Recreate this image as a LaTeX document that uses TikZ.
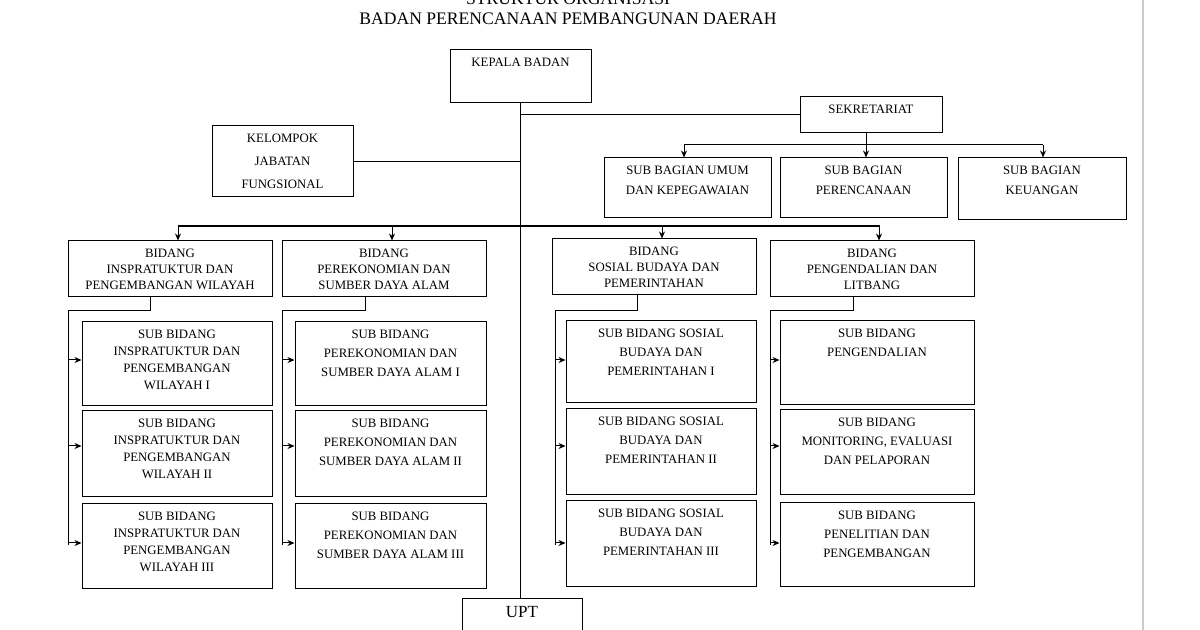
\documentclass[tikz,border=0pt]{standalone}
\usepackage{fontspec}
\setmainfont{Liberation Serif}
\usetikzlibrary{arrows.meta}
\newcommand{\bx}[7][8.5]{%
  \pgfmathsetmacro{\bw}{(#4-#2)*0.5}\pgfmathsetmacro{\bh}{(#5-#3)*0.5}%
  \node[box,minimum width=\bw pt,minimum height=\bh pt,
    label={[txt,font=\fontsize{6.4}{#1}\selectfont]north:{#7}}] (#6) at ({(#2+#4)/2},{(#3+#5)/2}) {};}
\tikzset{
  box/.style={draw,line width=0.5pt,inner sep=0pt,fill=white},
  txt/.style={anchor=north,align=center,inner sep=0pt,yshift=-4pt},
  ln/.style={line width=0.5pt},
  arr/.style={line width=0.5pt,-{Stealth[length=3.5pt,width=3pt]}}
}
\begin{document}
\begin{tikzpicture}[x=0.5pt,y=-0.5pt]
\useasboundingbox[fill=white] (0,0) rectangle (1200,630);
\draw[gray!40,line width=1pt] (1143,0) -- (1143,630);
\node[font=\fontsize{8.8}{10}\selectfont,align=center] (title) at (568,9) {STRUKTUR ORGANISASI\\BADAN PERENCANAAN PEMBANGUNAN DAERAH};
% trunk
\coordinate (t0) at (520,100);
\bx{450}{50}{591}{103}{kb}{KEPALA BADAN}
\bx[11.5]{800}{97}{942}{133}{sek}{SEKRETARIAT}
\bx[11.5]{212}{126}{353}{197}{kel}{KELOMPOK\\JABATAN\\FUNGSIONAL}
\bx[10]{604}{158}{771}{218}{sb1}{SUB BAGIAN UMUM\\DAN KEPEGAWAIAN}
\bx[10]{780}{158}{947}{218}{sb2}{SUB BAGIAN\\PERENCANAAN}
\bx[10]{958}{158}{1126}{220}{sb3}{SUB BAGIAN\\KEUANGAN}
\bx[8]{68}{241}{272}{297}{b1}{BIDANG\\INSPRATUKTUR DAN\\PENGEMBANGAN WILAYAH}
\bx[8]{282}{241}{486}{297}{b2}{BIDANG\\PEREKONOMIAN DAN\\SUMBER DAYA ALAM}
\bx[8]{552}{239}{756}{295}{b3}{BIDANG\\SOSIAL BUDAYA DAN\\PEMERINTAHAN}
\bx[8]{770}{241}{974}{297}{b4}{BIDANG\\PENGENDALIAN DAN\\LITBANG}
% sub bidang
\bx{82}{322}{272}{406}{s11}{SUB BIDANG\\INSPRATUKTUR DAN\\PENGEMBANGAN\\WILAYAH I}
\bx{82}{411}{272}{497}{s12}{SUB BIDANG\\INSPRATUKTUR DAN\\PENGEMBANGAN\\WILAYAH II}
\bx{82}{504}{272}{589}{s13}{SUB BIDANG\\INSPRATUKTUR DAN\\PENGEMBANGAN\\WILAYAH III}
\bx[9.5]{295}{322}{486}{406}{s21}{SUB BIDANG\\PEREKONOMIAN DAN\\SUMBER DAYA ALAM I}
\bx[9.5]{295}{411}{486}{497}{s22}{SUB BIDANG\\PEREKONOMIAN DAN\\SUMBER DAYA ALAM II}
\bx[9.5]{295}{504}{486}{589}{s23}{SUB BIDANG\\PEREKONOMIAN DAN\\SUMBER DAYA ALAM III}
\bx[9.5]{566}{321}{756}{403}{s31}{SUB BIDANG SOSIAL\\BUDAYA DAN\\PEMERINTAHAN I}
\bx[9.5]{566}{409}{756}{495}{s32}{SUB BIDANG SOSIAL\\BUDAYA DAN\\PEMERINTAHAN II}
\bx[9.5]{566}{501}{756}{587}{s33}{SUB BIDANG SOSIAL\\BUDAYA DAN\\PEMERINTAHAN III}
\bx[9.5]{780}{321}{974}{405}{s41}{SUB BIDANG\\PENGENDALIAN}
\bx[9.5]{780}{410}{974}{495}{s42}{SUB BIDANG\\MONITORING, EVALUASI\\DAN PELAPORAN}
\bx[9.5]{780}{503}{974}{587}{s43}{SUB BIDANG\\PENELITIAN DAN\\PENGEMBANGAN}
\bx[10]{462}{598}{582}{650}{upt}{\fontsize{8.5}{10}\selectfont UPT}
% connectors
\draw[ln] (kb.south -| t0) -- (upt.north -| t0);
\draw[ln] (sek.west) -- (sek.west -| t0);
\draw[ln] (kel.east) -- (kel.east -| t0);
\coordinate (sbus) at (866,145);
\draw[ln] (sek.south -| sbus) -- (sbus);
\draw[ln] (684,145) -- (1043,145);
\draw[arr] (684,145) -- (sb1.north -| 684,0);
\draw[arr] (sbus) -- (sb2.north -| sbus);
\draw[arr] (1043,145) -- (sb3.north -| 1043,0);
\draw[ln,line width=1pt] (178,226) -- (880,226);
\draw[arr] (178,226) -- (b1.north -| 178,0);
\draw[arr] (392,226) -- (b2.north -| 392,0);
\draw[arr] (662,226) -- (b3.north -| 662,0);
\draw[arr] (879,226) -- (b4.north -| 879,0);
\foreach \b/\cx/\lx/\sa/\sb/\sc in {b1/150/68/s11/s12/s13, b2/365/282/s21/s22/s23, b3/637/555/s31/s32/s33, b4/853/770/s41/s42/s43}{
  \draw[ln] (\b.south -| \cx,0) -- (\cx,311) -- (\lx,311) -- (\lx,545);
  \draw[arr] (\lx,360) -- (\sa.west |- \lx,360);
  \draw[arr] (\lx,446) -- (\sb.west |- \lx,446);
  \draw[arr] (\lx,543) -- (\sc.west |- \lx,543);
}
\end{tikzpicture}
\end{document}
